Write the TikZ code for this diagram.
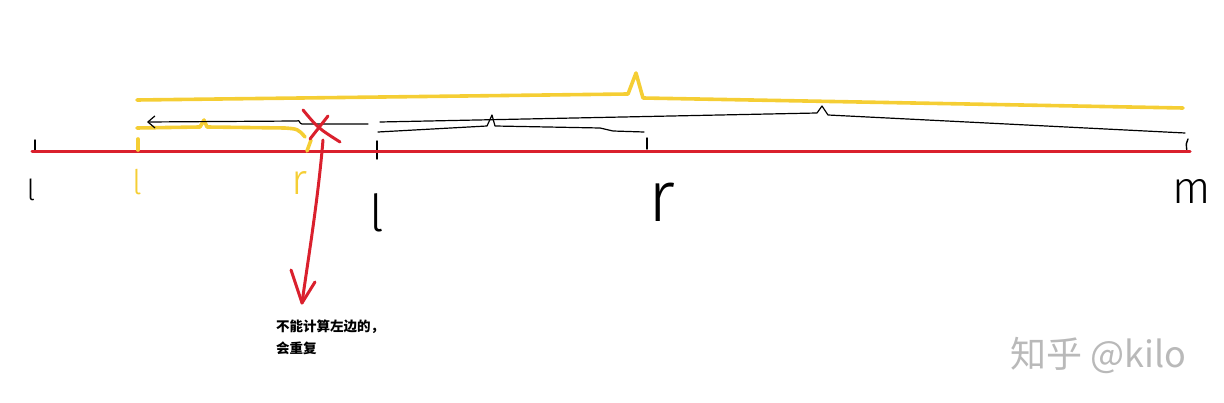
\documentclass[tikz,border=0pt]{standalone}
\usepackage{fontspec}
\usetikzlibrary{arrows.meta}
\newfontfamily\cjk{Noto Sans CJK SC}
\newfontfamily\hand{Fira Sans}[UprightFont=* Light]
\definecolor{penred}{RGB}{218,32,45}
\definecolor{penyellow}{RGB}{245,206,52}
\definecolor{wmgray}{RGB}{185,185,185}
\tikzset{
  redpen/.style={draw=penred,line width=3pt,line cap=round,line join=round},
  yellowpen/.style={draw=penyellow,line width=3.6pt,line cap=round,line join=round},
  blackpen/.style={draw=black,line width=1.2pt,line cap=round,line join=round},
  tickpen/.style={draw=black,line width=1.4pt,line cap=round},
  hw/.style={inner sep=0pt,anchor=base},
  notetext/.style={inner sep=0pt,anchor=base west,font=\cjk\bfseries\fontsize{13.5}{22}\selectfont},
}
\begin{document}
\begin{tikzpicture}[x=1pt,y=-1pt]
\useasboundingbox (0,0) rectangle (1224,403);
% axis
\coordinate (A) at (32,152);
\coordinate (B) at (1190,152);
% black ticks
\coordinate (t0a) at (35,140); \coordinate (t0b) at (35,152);
\coordinate (t1a) at (377,141); \coordinate (t1b) at (377,159);
\coordinate (t2a) at (647,138); \coordinate (t2b) at (647,149);
\coordinate (t3a) at (1188,139); \coordinate (t3b) at (1187,152);
\draw[tickpen] (t0a) -- (t0b);
\draw[tickpen] (t1a) -- (t1b);
\draw[tickpen] (t2a) -- (t2b);
\draw[tickpen] (t3a) .. controls (1186,143) .. (t3b);
\draw[redpen] (A) -- (B);
% black brace [l,r]
\coordinate (b1s) at (378,132);
\coordinate (b1e) at (644,132);
\draw[blackpen] (b1s) -- (487,126) -- (492,115) -- (495,126) -- (600,128) -- (613,131) -- (b1e);
% black brace [l,m]
\coordinate (b2s) at (380,122);
\coordinate (b2e) at (1185,133);
\draw[blackpen] (b2s) -- (817,113) -- (822,106) -- (828,115) -- (b2e);
% yellow big brace
\coordinate (y1s) at (137,100);
\coordinate (y1e) at (1183,108);
\draw[yellowpen] (y1s) -- (628,94) -- (636,73) -- (643,98) -- (y1e);
% yellow small brace
\coordinate (y2s) at (137,128);
\coordinate (y2e) at (305,137);
\draw[yellowpen] (y2s) -- (200,127) -- (204,120) -- (207,127) -- (285,128) .. controls (298,129) .. (y2e);
% yellow ticks
\coordinate (yt1a) at (138,139); \coordinate (yt1b) at (138,150);
\coordinate (yt2a) at (311,140); \coordinate (yt2b) at (307,151);
\draw[yellowpen] (yt1a) -- (yt1b);
\draw[yellowpen] (yt2a) -- (yt2b);
% black arrow leftwards
\coordinate (ar1) at (368,124);
\coordinate (ar2) at (147,122);
\draw[blackpen,-{Straight Barb[length=7pt,width=12pt]}] (ar1) -- (302,124) .. controls (299,124) and (300,119) .. (297,121) -- (ar2);
% red cross
\coordinate (x1a) at (303,110); \coordinate (x1b) at (340,142);
\coordinate (x2a) at (328,116); \coordinate (x2b) at (310,139);
\draw[redpen] (x1a) .. controls (318,128) .. (x1b);
\draw[redpen] (x2a) -- (x2b);
% red arrow
\coordinate (ra1) at (323,140);
\coordinate (ratip) at (302,303);
\coordinate (raL) at (291,270);
\coordinate (raR) at (315,282);
\draw[redpen] (ra1) .. controls (318,200) and (308,260) .. (ratip);
\draw[redpen] (raL) .. controls (296,285) .. (ratip) .. controls (308,292) .. (raR);
% handwritten labels
\node[hw,font=\hand\fontsize{29}{29}\selectfont] (L0) at (31,201) {l};
\node[hw,font=\hand\fontsize{34}{34}\selectfont,text=penyellow] (Ly) at (137,195) {l};
\node[hw,font=\hand\fontsize{43}{43}\selectfont,text=penyellow] (Ry) at (300,195) {r};
\node[hw,font=\hand\fontsize{51}{51}\selectfont] (Lb) at (377,232) {l};
\node[hw,font=\hand\fontsize{72}{72}\selectfont] (Rb) at (662,222) {r};
\node[hw,font=\hand\fontsize{45}{45}\selectfont] (M) at (1192,204) {m};
% note
\node[notetext] (note1) at (276,332) {不能计算左边的，};
\node[notetext] (note2) at (276,354) {会重复};
% watermark
\node[inner sep=0pt,anchor=base west,font=\cjk\fontsize{36}{36}\selectfont,text=wmgray] (wm) at (1010,368) {知乎 @kilo};
\end{tikzpicture}
\end{document}
